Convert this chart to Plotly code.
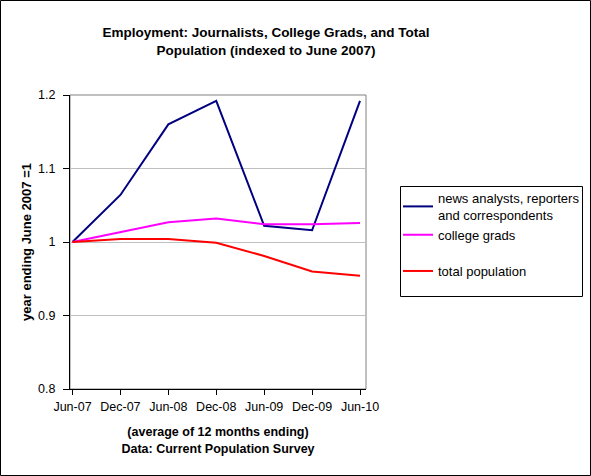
import plotly.graph_objects as go

periods = ['Jun-07', 'Dec-07', 'Jun-08', 'Dec-08', 'Jun-09', 'Dec-09', 'Jun-10']
journalists = [1.000, 1.064, 1.160, 1.192, 1.022, 1.016, 1.192]
college_grads = [1.000, 1.014, 1.027, 1.032, 1.024, 1.024, 1.026]
total_pop = [1.000, 1.004, 1.004, 0.999, 0.981, 0.960, 0.954]

font = 'Arial, Liberation Sans, sans-serif'
W, H = 591, 476
L, R, T, B = 70, 225, 95, 87
pw, ph = W - L - R, H - T - B


def px_x(x):
    return (x - L) / pw


def px_y(y):
    return 1 - (y - T) / ph


fig = go.Figure()
fig.add_trace(go.Scatter(x=periods, y=journalists, mode='lines', legendgroup='a',
                         name='news analysts, reporters<br>and correspondents',
                         line=dict(color='#000080', width=2)))
fig.add_trace(go.Scatter(x=periods, y=college_grads, mode='lines', legendgroup='b',
                         name='college grads', line=dict(color='#FF00FF', width=2)))
fig.add_trace(go.Scatter(x=periods, y=total_pop, mode='lines', legendgroup='c',
                         name='total population', legend='legend2',
                         line=dict(color='#FF0000', width=2)))

leg = dict(xanchor='left', yanchor='top', borderwidth=0, bgcolor='rgba(0,0,0,0)',
           font=dict(size=13), itemwidth=30, traceorder='grouped')

fig.update_layout(
    width=W, height=H,
    margin=dict(l=L, r=R, t=T, b=B, autoexpand=False),
    paper_bgcolor='white', plot_bgcolor='white',
    font=dict(family=font, size=12.5, color='black'),
    title=dict(text='<b>Employment: Journalists, College Grads, and Total<br>Population (indexed to June 2007)</b>',
               x=266 / W, xanchor='center', y=1 - 37 / H, yanchor='top',
               font=dict(size=13.5, family=font)),
    xaxis=dict(type='category', range=[-0.052, 6.125], showgrid=False,
               showline=True, linecolor='black', linewidth=1,
               ticks='outside', ticklen=5, tickcolor='black', ticklabelstandoff=1,
               title=dict(text='<b>(average of 12 months ending)<br>Data: Current Population Survey</b>',
                          standoff=14, font=dict(size=12.5))),
    yaxis=dict(range=[0.8, 1.2], dtick=0.1, tickformat='.1~f',
               showgrid=True, gridcolor='#C0C0C0', gridwidth=1, zeroline=False,
               showline=True, linecolor='black', linewidth=1,
               ticks='outside', ticklen=6, tickcolor='black', ticklabelstandoff=5,
               title=dict(text='<b>year ending June 2007 =1</b>', standoff=3,
                          font=dict(size=13))),
    legend=dict(leg, x=px_x(398), y=px_y(183), tracegroupgap=0),
    legend2=dict(leg, x=px_x(398), y=px_y(256)),
    showlegend=True,
    shapes=[
        dict(type='rect', xref='paper', yref='paper', x0=0, x1=1, y0=0, y1=1,
             line=dict(color='#808080', width=1), layer='below'),
        dict(type='rect', xref='paper', yref='paper',
             x0=px_x(400.5), x1=px_x(582.5), y0=px_y(296.5), y1=px_y(186.5),
             line=dict(color='black', width=1)),
        dict(type='rect', xref='paper', yref='paper',
             x0=px_x(0.5), x1=px_x(W - 0.5), y0=px_y(H - 0.5), y1=px_y(0.5),
             line=dict(color='black', width=1)),
    ],
)

fig.write_html('out.html', config={'displayModeBar': False},
               post_script="document.body.style.margin='0';")
